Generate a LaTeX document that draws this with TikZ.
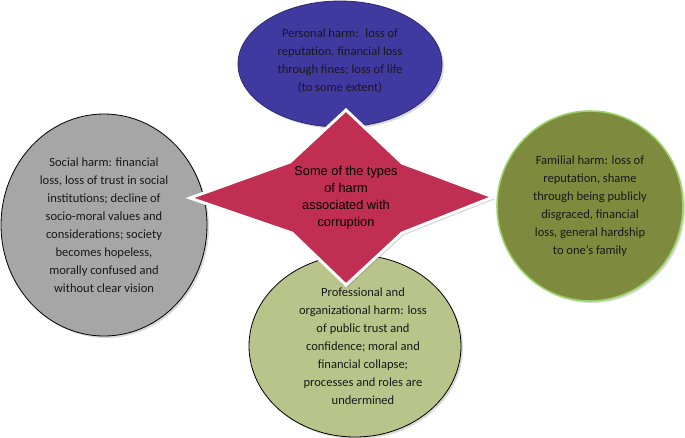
\documentclass[tikz,border=0pt]{standalone}
\usepackage{fontspec}
\setmainfont{Carlito}
\newfontfamily\arialfont{Liberation Sans}
\usetikzlibrary{shapes.geometric, shadows, positioning}

\definecolor{personalblue}{HTML}{4039A0}
\definecolor{socialgray}{HTML}{A6A6A6}
\definecolor{familyolive}{HTML}{7E8A3D}
\definecolor{profgreen}{HTML}{B9C48A}
\definecolor{familyrim}{HTML}{9BD468}
\definecolor{corecrimson}{HTML}{C02F52}

\begin{document}
\begin{tikzpicture}[x=0.75pt,y=-0.75pt,font=\fontsize{9.4}{13.5}\selectfont]

	\tikzset{harm st/.style={ellipse, inner sep=0pt, align=center,
			text=black!90, drop shadow={opacity=0.3, shadow xshift=1.5pt, shadow yshift=-1.5pt}},
		core st/.style={fill=corecrimson, draw=white, line width=2.2pt, line join=miter,
			drop shadow={opacity=0.35, shadow xshift=1.5pt, shadow yshift=-1.5pt}}}

	\useasboundingbox (0,0) rectangle (685,437);

	\node[harm st, fill=socialgray, draw=black, line width=0.6pt,
	minimum width=154.5pt, minimum height=166.5pt] (social) at (104,225)
	{Social harm: financial\\loss, loss of trust in social\\institutions; decline of\\socio-moral values and\\considerations; society\\becomes hopeless,\\morally confused and\\without clear vision};
	\node[harm st, fill=familyolive, draw=familyrim, line width=1.2pt,
	minimum width=139.5pt, minimum height=142.5pt] (familial) at (590,206)
	{Familial harm: loss of\\reputation, shame\\through being publicly\\disgraced, financial\\loss, general hardship\\to one’s family};
	\node[harm st, fill=personalblue, draw=personalblue!70!black, line width=0.6pt,
	minimum width=153pt, minimum height=94.5pt] (personal) at (340,64) {};
	\node[align=center, text=black!90] (personal text) at ([yshift=2pt]personal.center)
	{Personal harm:~ loss of\\reputation, financial loss\\through fines; loss of life\\(to some extent)};
	\node[harm st, fill=profgreen, draw=black, line width=0.6pt,
	minimum width=159pt, minimum height=136.5pt] (professional) at (355,346) {};
	\node[align=center, text=black!90] (professional text) at ([xshift=6pt]professional.center)
	{Professional and\\organizational harm: loss\\of public trust and\\confidence; moral and\\financial collapse;\\processes and roles are\\undermined};

	% four-point star in the middle
	\coordinate (C) at (346,198);
	\begin{scope}[shift={(346,198)}]
		\draw[core st] (0,-88) -- (56,-35) -- (147,-1) -- (56,35) -- (0,87)
		-- (-54,35) -- (-156,0) -- (-56,-36) -- cycle;
	\end{scope}
	\node[align=center, font=\arialfont\fontsize{9.6}{12.8}\selectfont] (core) at (C)
	{Some of the types\\of harm\\associated with\\corruption};

\end{tikzpicture}
\end{document}
